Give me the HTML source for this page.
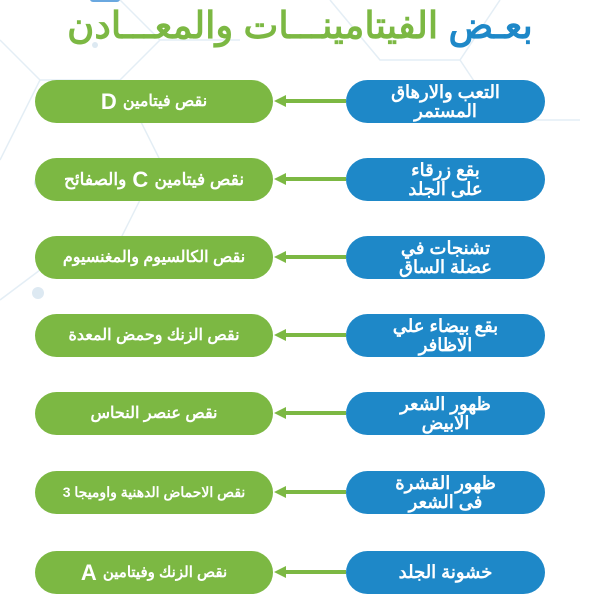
<!DOCTYPE html>
<html><head><meta charset="utf-8"><style>
body{margin:0;width:600px;height:600px;overflow:hidden;background:#fff;position:relative;font-family:"Liberation Sans","Noto Sans CJK SC",sans-serif}
.t{position:absolute;left:0;width:600px;top:4px;text-align:center;font-size:37px;font-weight:bold;color:#7cb843;direction:rtl;letter-spacing:1px}
.g,.b{position:absolute;height:43px;border-radius:22px;color:#fff;font-weight:bold;display:flex;align-items:center;justify-content:center;text-align:center;direction:rtl;line-height:19px}
.g{left:35px;width:238px;background:#7cb843;font-size:16px}
.b{left:346px;width:199px;background:#1e88c8;font-size:18px}
.l{position:absolute;left:284px;width:62px;height:4px;background:#7cb843}
.a{position:absolute;left:274px;width:0;height:0;border-top:6px solid transparent;border-bottom:6px solid transparent;border-right:12px solid #7cb843}
</style></head><body>
<svg width="600" height="600" style="position:absolute;left:0;top:0" stroke="#e4eef5" fill="none" stroke-width="1.5">
<path d="M0 40 L40 80 L120 80 L160 40 L120 0 M40 80 L0 160 M120 80 L160 160 L120 240 M160 40 L240 40 M330 0 L380 60 L460 60 L500 0 M460 60 L500 120 L580 120 M0 300 L40 270"/>
<circle cx="38" cy="293" r="6" fill="#dde9f2" stroke="none"/><circle cx="40" cy="183" r="6" fill="#dde9f2" stroke="none"/><circle cx="95" cy="45" r="3" fill="#dde9f2" stroke="none"/>
</svg>
<div style="position:absolute;left:90px;top:-6px;width:30px;height:8px;background:#6aa8e0;border-radius:3px"></div>
<div class="t"><span style="color:#1e88c8">بعـض</span> الفيتامينـــات والمعـــادن</div>

<div class="g" style="top:80px">نقص فيتامين <b style="font-size:22px">&nbsp;D</b></div><div class="a" style="top:95px"></div><div class="l" style="top:99px"></div><div class="b" style="top:80px">التعب والارهاق<br>المستمر</div>
<div class="g" style="top:158px;font-size:17px">نقص فيتامين <b style="font-size:22px">&nbsp;C&nbsp;</b> والصفائح</div><div class="a" style="top:173px"></div><div class="l" style="top:177px"></div><div class="b" style="top:158px">بقع زرقاء<br>على الجلد</div>
<div class="g" style="top:236px">نقص الكالسيوم والمغنسيوم</div><div class="a" style="top:251px"></div><div class="l" style="top:255px"></div><div class="b" style="top:236px">تشنجات في<br>عضلة الساق</div>
<div class="g" style="top:314px">نقص الزنك وحمض المعدة</div><div class="a" style="top:329px"></div><div class="l" style="top:333px"></div><div class="b" style="top:314px">بقع بيضاء علي<br>الاظافر</div>
<div class="g" style="top:392px">نقص عنصر النحاس</div><div class="a" style="top:407px"></div><div class="l" style="top:411px"></div><div class="b" style="top:392px">ظهور الشعر<br>الابيض</div>
<div class="g" style="top:471px;font-size:14px">نقص الاحماض الدهنية واوميجا 3</div><div class="a" style="top:486px"></div><div class="l" style="top:490px"></div><div class="b" style="top:471px">ظهور القشرة<br>فى الشعر</div>
<div class="g" style="top:551px;font-size:15px">نقص الزنك وفيتامين <b style="font-size:22px">&nbsp;A</b></div><div class="a" style="top:566px"></div><div class="l" style="top:570px"></div><div class="b" style="top:551px">خشونة الجلد</div>
</body></html>
